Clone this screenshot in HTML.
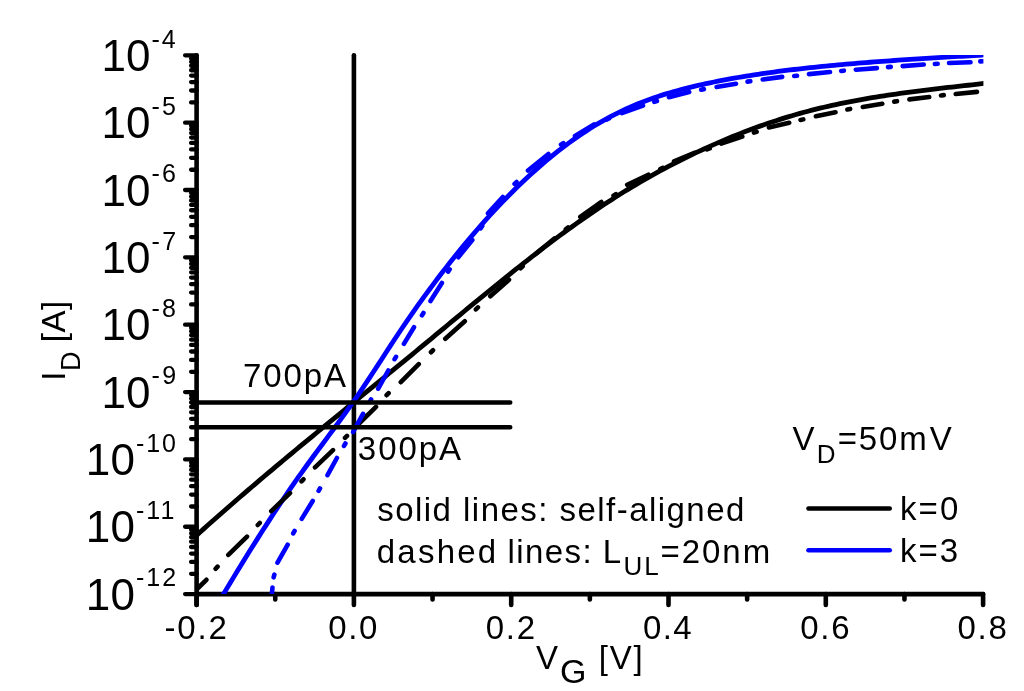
<!DOCTYPE html>
<html lang="en"><head><meta charset="utf-8"><title>ID-VG transfer characteristics</title>
<style>html,body{margin:0;padding:0;background:#fff}svg{display:block}</style></head>
<body><svg width="1024" height="691" viewBox="0 0 1024 691">
<rect width="1024" height="691" fill="#fff"/>
<g fill="none" stroke="#000" stroke-width="4.6" stroke-linecap="round">
<path d="M353.9 55.3 V594.1"/>
<path d="M196.6 55.3 V605"/>
<path d="M196.6 594.1 H983.1"/>
<path stroke-width="4.3" d="M185.1 55.3 H196.6 M191.1 102.38 H196.6 M191.1 90.52 H196.6 M191.1 82.1 H196.6 M191.1 75.57 H196.6 M191.1 70.24 H196.6 M191.1 65.73 H196.6 M191.1 61.83 H196.6 M191.1 58.38 H196.6 M185.1 122.65 H196.6 M191.1 169.73 H196.6 M191.1 157.87 H196.6 M191.1 149.45 H196.6 M191.1 142.92 H196.6 M191.1 137.59 H196.6 M191.1 133.08 H196.6 M191.1 129.18 H196.6 M191.1 125.73 H196.6 M185.1 190 H196.6 M191.1 237.08 H196.6 M191.1 225.22 H196.6 M191.1 216.8 H196.6 M191.1 210.27 H196.6 M191.1 204.94 H196.6 M191.1 200.43 H196.6 M191.1 196.53 H196.6 M191.1 193.08 H196.6 M185.1 257.35 H196.6 M191.1 304.43 H196.6 M191.1 292.57 H196.6 M191.1 284.15 H196.6 M191.1 277.62 H196.6 M191.1 272.29 H196.6 M191.1 267.78 H196.6 M191.1 263.88 H196.6 M191.1 260.43 H196.6 M185.1 324.7 H196.6 M191.1 371.78 H196.6 M191.1 359.92 H196.6 M191.1 351.5 H196.6 M191.1 344.97 H196.6 M191.1 339.64 H196.6 M191.1 335.13 H196.6 M191.1 331.23 H196.6 M191.1 327.78 H196.6 M185.1 392.05 H196.6 M191.1 439.13 H196.6 M191.1 427.27 H196.6 M191.1 418.85 H196.6 M191.1 412.32 H196.6 M191.1 406.99 H196.6 M191.1 402.48 H196.6 M191.1 398.58 H196.6 M191.1 395.13 H196.6 M185.1 459.4 H196.6 M191.1 506.48 H196.6 M191.1 494.62 H196.6 M191.1 486.2 H196.6 M191.1 479.67 H196.6 M191.1 474.34 H196.6 M191.1 469.83 H196.6 M191.1 465.93 H196.6 M191.1 462.48 H196.6 M185.1 526.75 H196.6 M191.1 573.83 H196.6 M191.1 561.97 H196.6 M191.1 553.55 H196.6 M191.1 547.02 H196.6 M191.1 541.69 H196.6 M191.1 537.18 H196.6 M191.1 533.28 H196.6 M191.1 529.83 H196.6 M185.1 594.1 H196.6"/>
<path d="M196.6 594.1 V605 M275.25 594.1 V599.5 M353.9 594.1 V605 M432.55 594.1 V599.5 M511.2 594.1 V605 M589.85 594.1 V599.5 M668.5 594.1 V605 M747.15 594.1 V599.5 M825.8 594.1 V605 M904.45 594.1 V599.5 M983.1 594.1 V605"/>
<path d="M808.5 508.5 H889.7"/>
<path stroke="#00f" d="M808.5 550.3 H889.7"/>
</g>
<defs><clipPath id="c"><rect x="196.6" y="55" width="786.8" height="539.1"/></clipPath></defs>
<g clip-path="url(#c)" fill="none" stroke-width="4.8" stroke-linecap="round" stroke-linejoin="round">
<path stroke="#000" d="M196 535.86 L200 532.25 L204 528.65 L208 525.08 L212 521.52 L216 517.98 L220 514.45 L224 510.94 L228 507.44 L232 503.96 L236 500.49 L240 497.03 L244 493.59 L248 490.15 L252 486.73 L256 483.33 L260 479.93 L264 476.54 L268 473.16 L272 469.79 L276 466.43 L280 463.08 L284 459.74 L288 456.41 L292 453.08 L296 449.76 L300 446.44 L304 443.13 L308 439.83 L312 436.53 L316 433.23 L320 429.94 L324 426.65 L328 423.36 L332 420.08 L336 416.8 L340 413.52 L344 410.25 L348 406.97 L352 403.7 L356 400.43 L360 397.16 L364 393.88 L368 390.61 L372 387.34 L376 384.07 L380 380.8 L384 377.52 L388 374.25 L392 370.97 L396 367.69 L400 364.41 L404 361.12 L408 357.83 L412 354.54 L416 351.25 L420 347.95 L424 344.64 L428 341.34 L432 338.03 L436 334.71 L440 331.4 L444 328.08 L448 324.76 L452 321.45 L456 318.13 L460 314.82 L464 311.51 L468 308.21 L472 304.91 L476 301.62 L480 298.33 L484 295.05 L488 291.78 L492 288.52 L496 285.27 L500 282.04 L504 278.81 L508 275.6 L512 272.4 L516 269.22 L520 266.05 L524 262.9 L528 259.77 L532 256.65 L536 253.55 L540 250.48 L544 247.42 L548 244.39 L552 241.38 L556 238.39 L560 235.43 L564 232.49 L568 229.58 L572 226.69 L576 223.83 L580 221 L584 218.19 L588 215.41 L592 212.67 L596 209.95 L600 207.26 L604 204.61 L608 201.99 L612 199.4 L616 196.84 L620 194.32 L624 191.83 L628 189.38 L632 186.96 L636 184.58 L640 182.23 L644 179.91 L648 177.62 L652 175.37 L656 173.15 L660 170.96 L664 168.81 L668 166.68 L672 164.59 L676 162.53 L680 160.5 L684 158.5 L688 156.53 L692 154.59 L696 152.68 L700 150.8 L704 148.95 L708 147.13 L712 145.34 L716 143.58 L720 141.85 L724 140.14 L728 138.47 L732 136.82 L736 135.2 L740 133.62 L744 132.06 L748 130.53 L752 129.03 L756 127.56 L760 126.12 L764 124.7 L768 123.33 L772 121.98 L776 120.66 L780 119.37 L784 118.11 L788 116.89 L792 115.69 L796 114.53 L800 113.4 L804 112.3 L808 111.23 L812 110.19 L816 109.18 L820 108.2 L824 107.25 L828 106.32 L832 105.43 L836 104.55 L840 103.71 L844 102.88 L848 102.08 L852 101.3 L856 100.55 L860 99.82 L864 99.1 L868 98.41 L872 97.73 L876 97.08 L880 96.44 L884 95.81 L888 95.21 L892 94.62 L896 94.04 L900 93.47 L904 92.92 L908 92.38 L912 91.86 L916 91.34 L920 90.83 L924 90.33 L928 89.84 L932 89.36 L936 88.89 L940 88.42 L944 87.95 L948 87.49 L952 87.04 L956 86.58 L960 86.13 L964 85.68 L968 85.24 L972 84.79 L976 84.34 L980 83.89 L984 83.43 L985 83.32"/>
<path stroke="#00f" d="M222 596.55 L226 589.88 L230 583.24 L234 576.63 L238 570.06 L242 563.53 L246 557.05 L250 550.6 L254 544.21 L258 537.86 L262 531.57 L266 525.33 L270 519.14 L274 513.02 L278 506.96 L282 500.96 L286 495.04 L290 489.18 L294 483.39 L298 477.68 L302 472.05 L306 466.49 L310 460.98 L314 455.53 L318 450.1 L322 444.7 L326 439.31 L330 433.91 L334 428.5 L338 423.06 L342 417.58 L346 412.05 L350 406.45 L354 400.77 L358 395.01 L362 389.14 L366 383.17 L370 377.12 L374 371.01 L378 364.87 L382 358.7 L386 352.53 L390 346.37 L394 340.26 L398 334.2 L402 328.22 L406 322.34 L410 316.55 L414 310.84 L418 305.21 L422 299.65 L426 294.15 L430 288.71 L434 283.34 L438 278.04 L442 272.81 L446 267.64 L450 262.53 L454 257.5 L458 252.53 L462 247.63 L466 242.8 L470 238.03 L474 233.34 L478 228.72 L482 224.16 L486 219.67 L490 215.26 L494 210.91 L498 206.64 L502 202.43 L506 198.3 L510 194.24 L514 190.25 L518 186.34 L522 182.49 L526 178.72 L530 175.02 L534 171.4 L538 167.85 L542 164.38 L546 160.97 L550 157.65 L554 154.4 L558 151.22 L562 148.12 L566 145.1 L570 142.15 L574 139.28 L578 136.49 L582 133.77 L586 131.13 L590 128.56 L594 126.08 L598 123.67 L602 121.33 L606 119.08 L610 116.9 L614 114.79 L618 112.77 L622 110.82 L626 108.95 L630 107.16 L634 105.43 L638 103.78 L642 102.19 L646 100.66 L650 99.19 L654 97.79 L658 96.44 L662 95.14 L666 93.9 L670 92.7 L674 91.55 L678 90.44 L682 89.37 L686 88.34 L690 87.35 L694 86.39 L698 85.46 L702 84.56 L706 83.69 L710 82.84 L714 82.01 L718 81.2 L722 80.42 L726 79.66 L730 78.92 L734 78.21 L738 77.51 L742 76.83 L746 76.17 L750 75.53 L754 74.9 L758 74.29 L762 73.7 L766 73.13 L770 72.57 L774 72.03 L778 71.49 L782 70.98 L786 70.47 L790 69.98 L794 69.5 L798 69.04 L802 68.58 L806 68.13 L810 67.7 L814 67.27 L818 66.86 L822 66.45 L826 66.06 L830 65.67 L834 65.29 L838 64.92 L842 64.56 L846 64.21 L850 63.86 L854 63.52 L858 63.19 L862 62.87 L866 62.55 L870 62.24 L874 61.94 L878 61.64 L882 61.35 L886 61.06 L890 60.78 L894 60.5 L898 60.23 L902 59.96 L906 59.69 L910 59.43 L914 59.17 L918 58.92 L922 58.66 L926 58.41 L930 58.17 L934 57.92 L938 57.67 L942 57.43 L946 57.19 L950 56.95 L954 56.71 L958 56.47 L962 56.23 L966 55.99 L970 55.74 L974 55.5 L978 55.26 L982 55.01 L985 54.83"/>
<path stroke="#000" stroke-width="4.6" d="M195 591 L206.4 579.8 M215.65 568.72 L217.55 566.68 M228.3 554.8 L247 536.6 M257.77 525 L259.73 523 M271.25 511.1 L290 493.1 M301.51 481.29 L303.49 479.31 M315 467.3 L333 450.2 M345.01 437.89 L346.99 435.91 M357 425.5 L376 406.9 M386.61 395.19 L388.59 393.21 M400.8 382.2 L418.75 364.2 M430.99 352.22 L433.01 350.28 M445.3 338.75 L464.8 321.25 M475.88 309.36 L477.92 307.44 M490.3 296.25 L509 279.8 M520.57 268.25 L522.63 266.35 M535.6 254 L554.4 238.4 M565.81 229.18 L567.99 227.42 M580.3 216.9 L601.4 202 M613.52 195.75 L615.88 194.25 M627.2 184.8 L648.3 174.7 M660.34 169.01 L662.86 167.79 M674 161.4 L694.4 152.8 M707.08 149.37 L709.72 148.43 M721.25 143.6 L742.3 136.6 M753.97 132.62 L756.63 131.78 M768.9 127.5 L789.2 122.8 M800.54 120.02 L803.26 119.38 M815.9 116.25 L835.5 112.3 M847.37 109.46 L850.13 108.94 M862.8 106.9 L882.3 103.75 M894.22 101.61 L896.98 101.19 M909.4 99.4 L929.2 97 M941.01 95.46 L943.79 95.14 M955.7 94 L977 91.9"/>
<path stroke="#00f" stroke-width="4.6" d="M271.6 596 L272.5 587.6 M273.63 577.35 L274.37 574.65 M277.5 562.7 L287.7 544.7 M293.21 533.42 L294.59 530.98 M301.7 518.9 L312.7 501 M318.6 490.81 L320 488.39 M327.5 475.2 L336.9 458 M343.99 445.9 L345.41 443.5 M353.1 432 L363 413.8 M369.7 401.81 L371.1 399.39 M378.2 388.7 L388.3 370.5 M394.59 359.21 L396.01 356.79 M403.9 343.9 L414 327.2 M421.96 315.39 L423.44 313.01 M430.5 301 L441.9 283 M448.12 271.66 L449.68 269.34 M458.3 257.2 L472.3 240 M480.6 228.35 L482.2 226.05 M488 213.4 L502.8 197 M514.61 183.99 L516.59 182.01 M528 170.5 L548.4 154 M561.05 144.7 L563.35 143.1 M575 136 L594 124.5 M606.52 119.56 L609.08 118.44 M621.9 113.1 L643 105.6 M654.27 101.82 L656.93 100.98 M668.9 97.2 L689.2 92 M701.13 89.67 L703.87 89.13 M716.6 86.9 L736 83.75 M747.52 81.61 L750.28 81.19 M762.7 79.5 L782.2 76.9 M794.21 76.05 L796.99 75.75 M808.9 74.1 L830 72 M841.11 70.92 L843.89 70.68 M855.8 69.7 L876.9 68.1 M888 67.11 L890.8 66.89 M902.7 66.1 L923.75 64.5 M934.85 63.98 L937.65 63.82 M949 63 L970.5 62.2 M980.3 61.38 L983.1 61.22"/>
</g>
<path fill="none" stroke="#000" stroke-width="4.6" stroke-linecap="round" d="M196.6 402.48 H510.2 M196.6 427.27 H510.2"/>
<g font-family="'Liberation Sans', Arial, sans-serif" fill="#000">
<text x="101.45" y="71" font-size="44" letter-spacing="0.13">10</text>
<text x="151.44" y="47.5" font-size="25" letter-spacing="1.96">-4</text>
<text x="101.45" y="138.35" font-size="44" letter-spacing="0.13">10</text>
<text x="151.44" y="114.85" font-size="25" letter-spacing="2.28">-5</text>
<text x="101.45" y="205.7" font-size="44" letter-spacing="0.13">10</text>
<text x="151.44" y="182.2" font-size="25" letter-spacing="2.33">-6</text>
<text x="101.45" y="273.05" font-size="44" letter-spacing="0.13">10</text>
<text x="151.44" y="249.55" font-size="25" letter-spacing="2.49">-7</text>
<text x="101.45" y="340.4" font-size="44" letter-spacing="0.13">10</text>
<text x="151.44" y="316.9" font-size="25" letter-spacing="2.32">-8</text>
<text x="101.45" y="407.75" font-size="44" letter-spacing="0.13">10</text>
<text x="151.44" y="384.25" font-size="25" letter-spacing="2.42">-9</text>
<text x="85.65" y="475.1" font-size="44" letter-spacing="0.43">10</text>
<text x="135.89" y="451.6" font-size="25" letter-spacing="1.98">-10</text>
<text x="85.65" y="542.45" font-size="44" letter-spacing="0.43">10</text>
<text x="135.89" y="518.95" font-size="25" letter-spacing="2.1">-11</text>
<text x="85.65" y="609.8" font-size="44" letter-spacing="0.43">10</text>
<text x="135.89" y="586.3" font-size="25" letter-spacing="2.12">-12</text>
<text x="164.53" y="639.1" font-size="33" letter-spacing="1.82">-0.2</text>
<text x="328.36" y="639.1" font-size="33" letter-spacing="1.6">0.0</text>
<text x="485.66" y="639.1" font-size="33" letter-spacing="1.79">0.2</text>
<text x="642.96" y="639.1" font-size="33" letter-spacing="1.44">0.4</text>
<text x="800.26" y="639.1" font-size="33" letter-spacing="1.68">0.6</text>
<text x="957.56" y="639.1" font-size="33" letter-spacing="1.67">0.8</text>
<text x="536.05" y="668.7" font-size="33" letter-spacing="0">V</text>
<text x="560.09" y="682.5" font-size="34" letter-spacing="0">G</text>
<text x="598.85" y="668.7" font-size="33" letter-spacing="1.73">[V]</text>
<g transform="rotate(-90)">
<text x="-380.7" y="65.1" font-size="33" letter-spacing="0">I</text>
<text x="-371.11" y="79.7" font-size="27" letter-spacing="0">D</text>
<text x="-342.25" y="65.1" font-size="33" letter-spacing="0.58">[A]</text>
</g>
<text x="243.11" y="387.35" font-size="33" letter-spacing="1.88">700pA</text>
<text x="357.84" y="459.85" font-size="33" letter-spacing="1.95">300pA</text>
<text x="377.28" y="520.8" font-size="33" letter-spacing="1.46">solid lines: self-aligned</text>
<text x="376.81" y="562.7" font-size="33" letter-spacing="2.21">dashed</text>
<text x="507.38" y="562.7" font-size="33" letter-spacing="1.44">lines:</text>
<text x="602.79" y="562.7" font-size="33" letter-spacing="0">L</text>
<text x="623.49" y="575.3" font-size="26" letter-spacing="1.88">UL</text>
<text x="660.49" y="562.7" font-size="33" letter-spacing="1.97">=20nm</text>
<text x="792.55" y="450.1" font-size="33" letter-spacing="0">V</text>
<text x="816.87" y="462.7" font-size="26" letter-spacing="0">D</text>
<text x="837.79" y="450.1" font-size="33" letter-spacing="1.81">=50m</text>
<text x="929.65" y="450.1" font-size="33" letter-spacing="0">V</text>
<text x="899.88" y="519.9" font-size="33" letter-spacing="2.14">k=0</text>
<text x="899.88" y="561.7" font-size="33" letter-spacing="2.02">k=3</text>
</g>
</svg></body></html>
